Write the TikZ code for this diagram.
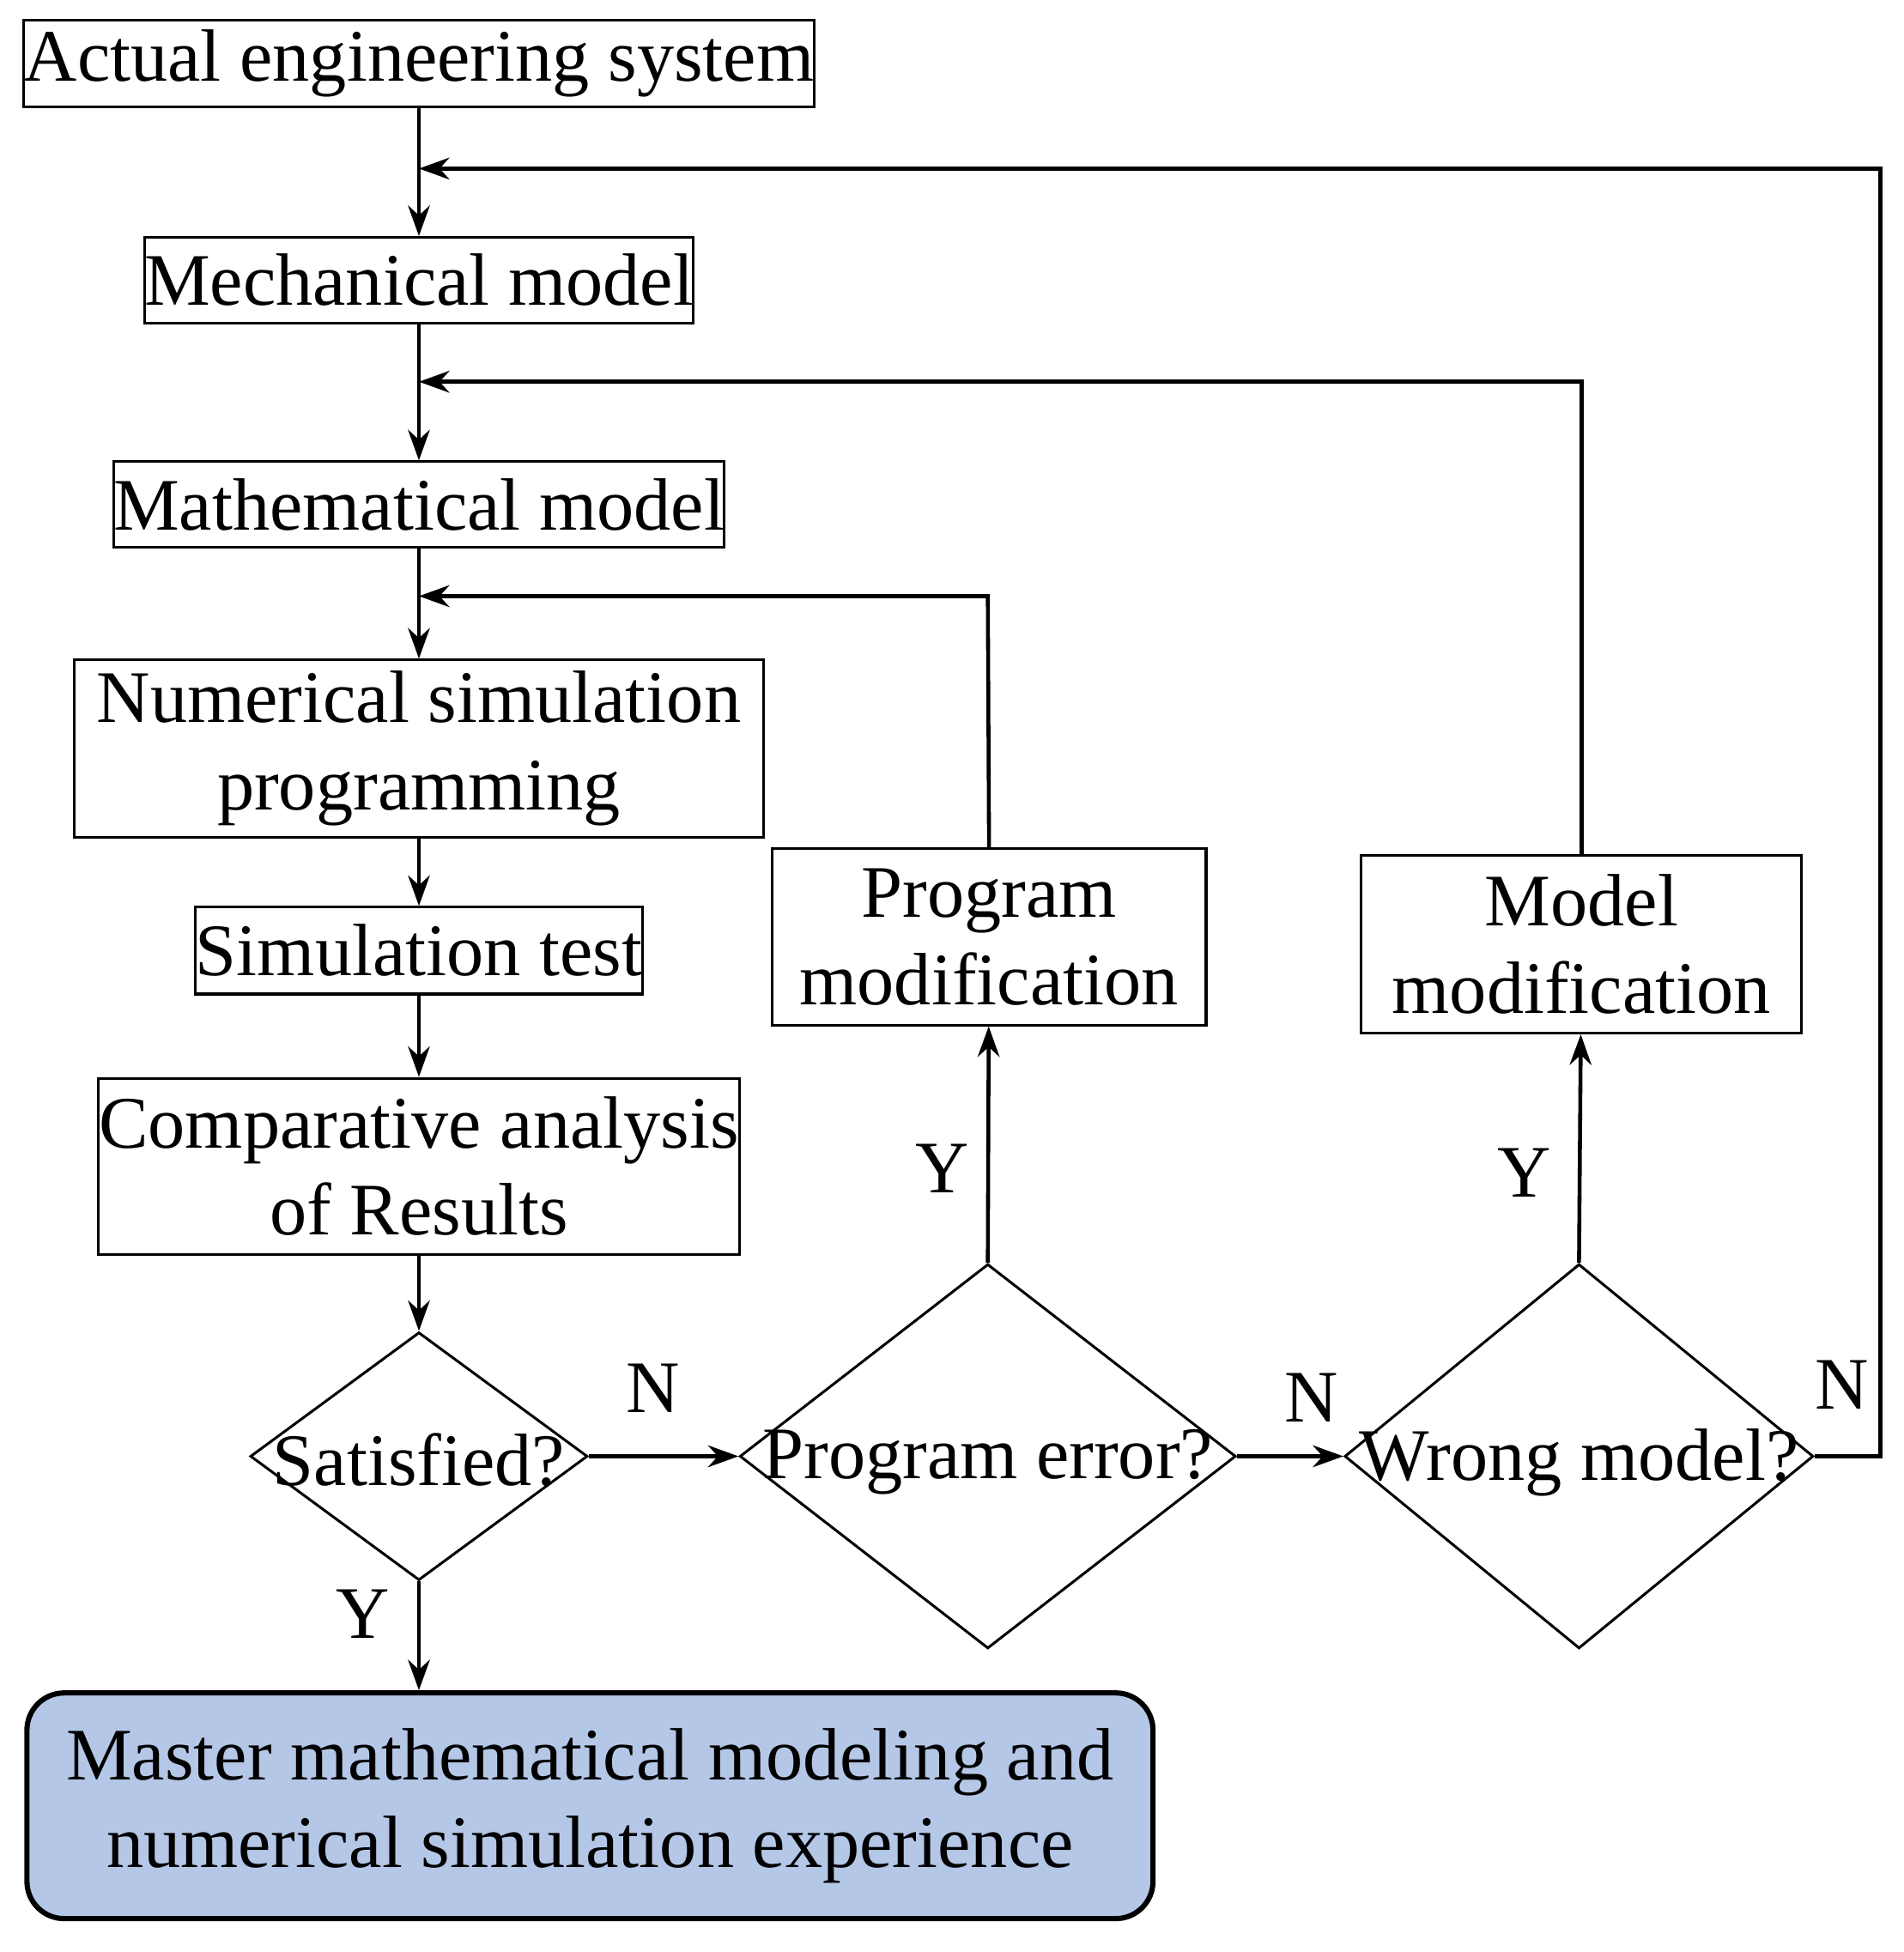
\documentclass[tikz,border=0pt]{standalone}
\usepackage{fontspec}
\setmainfont{Liberation Serif}
\usetikzlibrary{shapes.geometric,arrows.meta}
\begin{document}
\begin{tikzpicture}[x=0.01cm,y=-0.01cm,
  every node/.style={font=\fontsize{17}{20}\selectfont},
  box/.style={draw,line width=0.6pt,inner sep=0pt,align=center},
  dia/.style={draw,diamond,line width=0.6pt,inner sep=0pt,aspect=1},
  lab/.style={font=\fontsize{17}{20}\selectfont},
  arr/.style={-{Stealth[length=7pt,width=5pt]},line width=0.9pt},
  ln/.style={line width=0.9pt}]
\useasboundingbox (0,0) rectangle (1536,1575);
\node[box,minimum width=6.36cm,minimum height=0.70cm] (a) at (338,51) {Actual engineering system};
\node[box,minimum width=4.41cm,minimum height=0.69cm] (b) at (338,226) {Mechanical model};
\node[box,minimum width=4.91cm,minimum height=0.69cm] (c) at (338,407) {Mathematical model};
\node[box,minimum width=5.56cm,minimum height=1.43cm] (d) at (338,604) {Numerical simulation\\programming};
\node[box,minimum width=3.59cm,minimum height=0.70cm] (e) at (338,767) {Simulation test};
\node[box,minimum width=5.17cm,minimum height=1.42cm] (f) at (338,941) {Comparative analysis\\of Results};
\node[dia,minimum width=2.72cm,minimum height=2.00cm] (s) at (338,1175) {};
\node[lab] at (338,1178) {Satisfied?};
\node[dia,minimum width=4.00cm,minimum height=3.10cm] (p) at (797,1175) {};
\node[lab] at (797,1180) {Program error?};
\node[dia,minimum width=3.78cm,minimum height=3.10cm] (w) at (1274,1175) {};
\node[lab] at (1274,1180) {Wrong model?};
\node[box,minimum width=3.50cm,minimum height=1.42cm] (pm) at (798,756) {Program\\modification};
\node[box,minimum width=3.55cm,minimum height=1.43cm] (mm) at (1276,762) {Model\\modification};
\node[box,rounded corners=0.3cm,fill={rgb,255:red,180;green,199;blue,231},line width=1.2pt,minimum width=9.08cm,minimum height=1.82cm] (g) at (476,1457) {Master mathematical modeling and\\numerical simulation experience};
\coordinate (j1) at (338,136);
\coordinate (j2) at (338,308);
\coordinate (j3) at (338,481);
\draw[arr] (a) -- (b);
\draw[arr] (b) -- (c);
\draw[arr] (c) -- (d);
\draw[arr] (d) -- (e);
\draw[arr] (e) -- (f);
\draw[arr] (f) -- (s);
\draw[arr] (s.south) -- (s.south |- g.north);
\draw[arr] (s) -- (p);
\draw[arr] (p) -- (w);
\draw[arr] (p.north) -- (pm);
\draw[arr] (w.north) -- (mm);
\draw[arr] (w.east) -- (1517,1175) -- (1517,136) -- (j1);
\draw[arr] (mm.north) -- (1276,308) -- (j2);
\draw[arr] (pm.north) -- (797,481) -- (j3);
\node[lab] at (527,1120) {N};
\node[lab] at (1058,1128) {N};
\node[lab] at (1486,1117) {N};
\node[lab] at (760,943) {Y};
\node[lab] at (1230,946) {Y};
\node[lab] at (293,1302) {Y};
\end{tikzpicture}
\end{document}
